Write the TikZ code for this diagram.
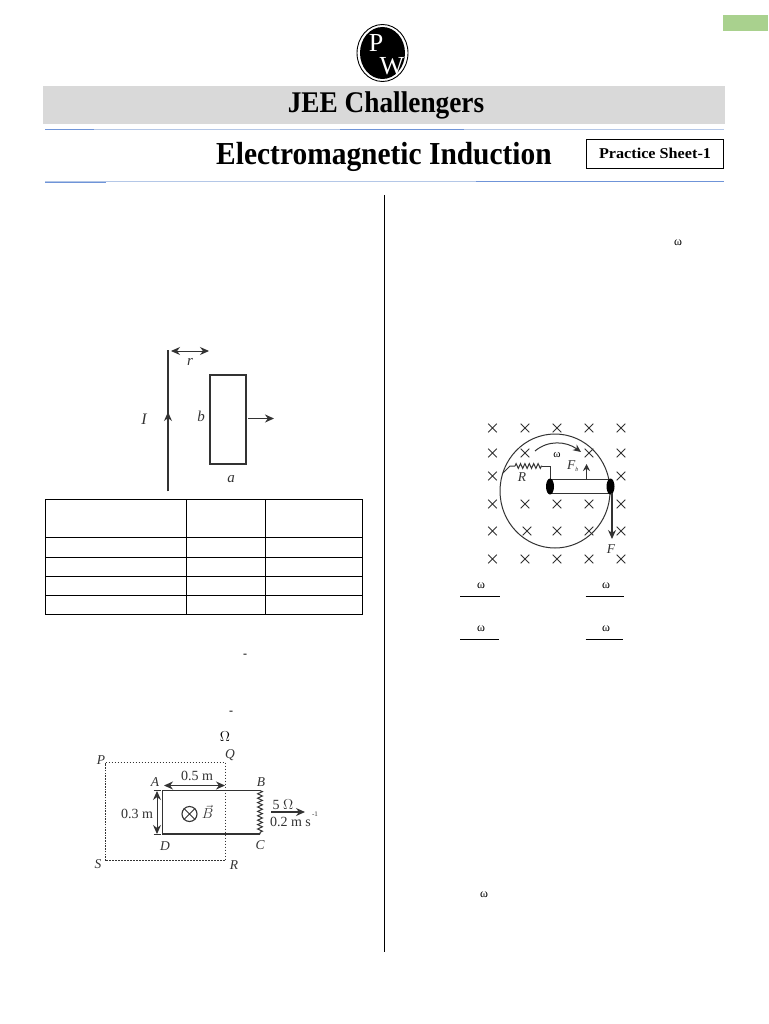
\documentclass[tikz,border=0pt]{standalone}
\usepackage{fontspec}
\setmainfont{Liberation Serif}
\usetikzlibrary{arrows.meta,decorations.pathmorphing}
\definecolor{bandgrey}{HTML}{D9D9D9}
\definecolor{tabgreen}{HTML}{A9D18E}
\definecolor{ruleblue}{HTML}{B4C7E7}
\definecolor{ruledark}{HTML}{6F94D8}
\definecolor{wire}{HTML}{333333}
\tikzset{
  fig/.style={line width=1pt,draw=wire},
  thickfig/.style={line width=1.6pt,draw=wire},
  tip/.style={-{Stealth[length=9pt,width=8pt]}},
  twotip/.style={{Stealth[length=9pt,width=8pt]}-{Stealth[length=9pt,width=8pt]}},
  lab/.style={font=\fontsize{13.5}{13.5}\selectfont\itshape,inner sep=0pt,text=wire},
  val/.style={font=\fontsize{14}{14}\selectfont,inner sep=0pt,text=wire},
  om/.style={font=\fontsize{12}{12}\selectfont,inner sep=0pt},
  cross/.style={line width=0.9pt,draw=wire},
  fracline/.style={line width=0.9pt,draw=black},
  tabline/.style={line width=0.9pt,draw=black},
  resistor/.style={decorate,decoration={zigzag,amplitude=2.4pt,segment length=4.4pt},line width=1pt,draw=wire},
}
\begin{document}
\begin{tikzpicture}[x=1pt,y=-1pt]
\useasboundingbox (0,0) rectangle (768,1024);
\fill[white] (0,0) rectangle (768,1024);
% header
\fill[tabgreen] (723,15) rectangle (768,31);
\fill[bandgrey] (43,86) rectangle (725,124);
\draw[ruleblue,line width=1pt] (45,129.5) -- (724,129.5);
\draw[ruleblue,line width=1pt] (45,182) -- (724,182);
\draw[ruledark,line width=0.8pt] (45,129.5) -- (94,129.5) (340,129.5) -- (464,129.5);
\draw[ruledark,line width=0.8pt] (45,182) -- (106,182) (476,181.8) -- (724,181.8);
% logo
\draw[black,line width=0.9pt] (382.5,53) ellipse (25.5 and 28.5);
\fill[black] (382.5,53) ellipse (22.5 and 26);
\node[text=white,inner sep=0pt,font=\fontsize{26}{26}\selectfont] (logoP) at (376,43) {P};
\node[text=white,inner sep=0pt,font=\fontsize{26}{26}\selectfont] (logoW) at (392,66) {W};
% titles
\node[inner sep=0pt,anchor=base,font=\bfseries\fontsize{30}{30}\selectfont,xscale=0.91] (t1) at (386,113) {JEE Challengers};
\node[inner sep=0pt,anchor=base,font=\bfseries\fontsize{32}{32}\selectfont,xscale=0.92] (t2) at (384,165) {Electromagnetic Induction};
\node[draw=black,line width=0.9pt,minimum width=137pt,minimum height=29pt,inner sep=0pt,font=\bfseries\fontsize{15}{15}\selectfont] (ps) at (655,153.5) {\scalebox{1.08}[1]{Practice Sheet-1}};
% column rule
\coordinate (colT) at (384,195); \coordinate (colB) at (384,952);
\draw[black,line width=1pt] (colT) -- (colB);

% figure 1
\coordinate (w1) at (168,491); \coordinate (w2) at (168,350); \coordinate (wm) at (168,412);
\draw[fig,line width=1.1pt] (w1) -- (w2);
\draw[fig,tip,line width=1.1pt] (w1) -- (wm);
\coordinate (r1) at (171,351); \coordinate (r2) at (209,351);
\draw[fig,twotip] (r1) -- (r2);
\node[draw=wire,line width=1.5pt,minimum width=36pt,minimum height=89pt,inner sep=0pt] (loop) at (228,419.5) {};
\coordinate (v1) at (274,418.5);
\draw[thickfig,tip] (loop.east)++(1.5,-1) -- (v1);
\node[lab,font=\fontsize{15}{15}\selectfont\itshape] (lr) at (190,362) {r};
\node[lab,font=\fontsize{15}{15}\selectfont\itshape] (lb) at (201,416) {b};
\node[lab,font=\fontsize{16}{16}\selectfont\itshape] (li) at (144,419) {I};
\node[lab,font=\fontsize{15}{15}\selectfont\itshape] (la) at (231,479) {a};

% table
\draw[tabline] (45.5,499) rectangle (362,614.5);
\foreach \y in {537.5,557,576,595}{\draw[tabline] (45.5,\y) -- (362,\y);}
\foreach \x in {186,265.5}{\draw[tabline] (\x,499) -- (\x,614.5);}

% stray glyphs
\node[om] (d1) at (245,656) {-};
\node[om] (d2) at (231,713) {-};
\node[inner sep=0pt,font=\fontsize{14}{14}\selectfont] (ohm) at (225,737) {$\Omega$};
\node[om] (o1) at (678,243) {ω};
\node[om] (o2) at (484,895) {ω};

% figure 2
\coordinate (P) at (105.5,762.5); \coordinate (Q) at (225.5,762.5);
\coordinate (R) at (225.5,860.5); \coordinate (S) at (105.5,860.5);
\draw[wire,line width=0.9pt,dash pattern=on 1.5pt off 1.5pt] (P) -- (Q) -- (R) -- (S);
\draw[wire,line width=1.6pt,dash pattern=on 1.6pt off 1.1pt] (S) -- (P);
\coordinate (A) at (162.5,790.5); \coordinate (B) at (260,790.5);
\coordinate (C) at (260,834); \coordinate (D) at (162.5,834);
\draw[fig,line width=1.2pt] (C) -- (D) -- (A) -- (B);
\draw[resistor] (B) -- (C);
\coordinate (h1) at (164,785.5); \coordinate (h2) at (225,785.5);
\draw[fig,twotip] (h1) -- (h2);
\coordinate (g1) at (157,791); \coordinate (g2) at (157,834);
\draw[fig,twotip] (g1) -- (g2);
\draw[fig,line width=0.7pt] (153.5,790.5) -- (161,790.5) (153.5,834) -- (161,834);
\node[draw=wire,circle,line width=1.1pt,minimum size=15pt,inner sep=0pt] (ot) at (189.5,814) {};
\draw[fig] (ot.45) -- (ot.225) (ot.135) -- (ot.315);
\node[val] (bv) at (207.5,812) {$\vec{B}$};
\node[lab] (tP) at (101,760) {P};
\node[lab] (tQ) at (230,755) {Q};
\node[lab] (tS) at (98,864) {S};
\node[lab] (tR) at (234,865) {R};
\node[lab] (tA) at (155,782) {A};
\node[lab] (tB) at (261,782) {B};
\node[lab] (tD) at (165,846) {D};
\node[lab] (tC) at (260,845) {C};
\node[val] (t05) at (197,776) {0.5 m};
\node[val] (t03) at (137,814) {0.3 m};
\node[val] (t5) at (283,805) {5 $\Omega$};
\coordinate (u1) at (271,812); \coordinate (u2) at (305,812);
\draw[fig,line width=1.2pt,tip] (u1) -- (u2);
\node[val] (t02) at (290.5,822) {0.2 m s};
\node[inner sep=0pt,font=\fontsize{7}{7}\selectfont,text=wire] (tm1) at (315,814) {-1};

% figure 3
\foreach \x/\y in {492.5/428,525/428,557/428,589/428,621/428,
 492.5/453,525/453,589/453,621/453,
 492.5/476,621/476,
 492.5/504,525/504,557/504,589/504,621/504,
 492.5/531,527/531,557/531,589/531,621/531,
 492.5/559,525/559,557/559,589/559,621/559}{
  \draw[cross] (\x-4.3,\y-4.3) -- (\x+4.3,\y+4.3) (\x-4.3,\y+4.3) -- (\x+4.3,\y-4.3);
}
\draw[fig] (555,491) ellipse (55 and 57);
\coordinate (a1) at (535,451); \coordinate (a2) at (581,452);
\draw[fig,-{Stealth[length=8pt,width=7pt]}] (a1) .. controls (548,440) and (566,441) .. (a2);
\node[om,font=\fontsize{11}{11}\selectfont] (om3) at (557,455) {ω};
\coordinate (z0) at (503,473); \coordinate (z1) at (510,466); \coordinate (z2) at (542,466);
\coordinate (z3) at (550,466); \coordinate (z4) at (550,480);
\draw[fig] (z0) -- (z1) -- (515,466);
\draw[resistor] (515,466) -- (z2);
\draw[fig] (z2) -- (z3) -- (z4);
\draw[fig] (550,479.5) -- (611,479.5) (550,493.5) -- (611,493.5);
\fill[black] (550,486.5) ellipse (4 and 8);
\fill[black] (610.5,486.5) ellipse (4 and 8);
\coordinate (fb1) at (586.5,479.5); \coordinate (fb2) at (586.5,464);
\draw[fig,-{Stealth[length=7pt,width=7pt]}] (fb1) -- (fb2);
\coordinate (f1) at (612,493); \coordinate (f2) at (612,539);
\draw[fig,line width=1.2pt,tip] (f1) -- (f2);
\node[lab] (lfb) at (573,466) {F\textsubscript{\fontsize{6}{6}\selectfont b}};
\node[lab] (lf) at (611,549) {F};
\node[lab] (lR3) at (522,477) {R};

% option fractions
\foreach \n/\x/\y/\a/\b in {oa/481/586/460/500,ob/606/586/585.5/624,oc/481/629/460/499,od/606/629/585.5/623}{
  \node[om] (\n) at (\x,\y) {ω};
  \pgfmathsetmacro{\ly}{\y+10.2}
  \draw[fracline] (\a,\ly) -- (\b,\ly);
}
\end{tikzpicture}
\end{document}
